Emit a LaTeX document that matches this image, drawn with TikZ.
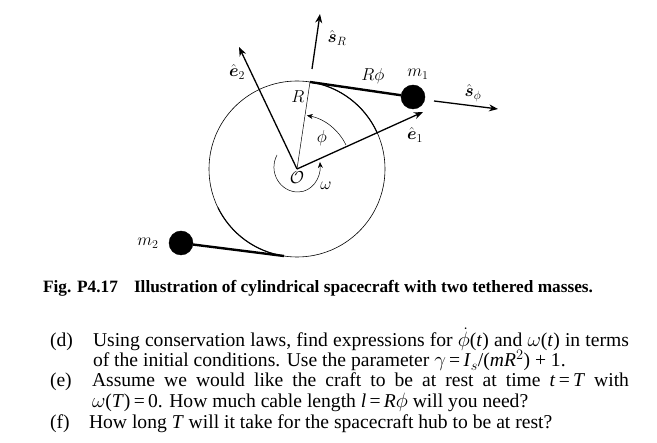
\documentclass[tikz,border=0pt]{standalone}
\usepackage{amsmath}
\usepackage{fontspec}
\setmainfont{Liberation Serif}
\usetikzlibrary{arrows.meta}
\tikzset{
	mass/.style={draw,circle,fill=black,inner sep=0,outer sep=0,minimum size=24pt},
	vec/.style={-{Stealth[length=9pt,width=7pt]},line width=1.3pt},
	thin arrow/.style={-{Stealth[length=6pt,width=5pt]},line width=0.5pt},
	cable/.style={line width=2.4pt},
	lbl/.style={inner sep=0,outer sep=0,font=\fontsize{17}{17}\selectfont},
	line/.style={anchor=base west,inner sep=0,outer sep=0,font=\fontsize{19.6}{20}\selectfont},
	caption/.style={anchor=base west,inner sep=0,outer sep=0,font=\fontsize{17.3}{18}\selectfont\bfseries}
}
\newcommand{\fitline}[2]{\makebox[#1pt][s]{#2}}
\begin{document}
\begin{tikzpicture}[x=1pt,y=-1pt]
	\useasboundingbox (0,0) rectangle (657,443);
	% hub
	\coordinate (O) at (297,169);
	\node[draw,circle,inner sep=0,outer sep=0,minimum size=176pt,line width=0.6pt] (hub) at (O) {};
	\coordinate (t1) at (310,82);
	\coordinate (t2) at (284,256);
	\node[mass] (m1) at (413,97) {};
	\node[mass] (m2) at (181,243) {};
	% cables
	\draw[cable] (t1) -- (m1);
	\draw[cable] (t2) -- (m2);
	\draw[line width=1.1pt] (t1) arc[start angle=81.5,end angle=24,radius=88pt];
	\draw[line width=1.1pt] (t2) arc[start angle=261.5,end angle=206,radius=88pt];
	% vectors
	\coordinate (e1) at (423,112);
	\coordinate (e2) at (239,47);
	\coordinate (sRa) at (312,69);
	\coordinate (sRb) at (320,14);
	\coordinate (spa) at (434,101);
	\coordinate (spb) at (498,109);
	\draw[vec] (O) -- (e1);
	\draw[vec] (O) -- (e2);
	\draw[vec] (sRa) -- (sRb);
	\draw[vec] (spa) -- (spb);
	\draw[line width=0.5pt] (O) -- (t1);
	% angles
	\draw[thin arrow] (346,145) arc[start angle=26,end angle=80,radius=54pt];
	\draw[thin arrow] (277,155) .. controls (268,172) and (280,192) .. (298,192) .. controls (312,192) and (321,178) .. (320,162);
	% labels
	\node[lbl] (lsR) at (337,38) {$\hat{\boldsymbol{s}}_R$};
	\node[lbl] (le2) at (237,72) {$\hat{\boldsymbol{e}}_2$};
	\node[lbl] (lRp) at (373,76) {$R\phi$};
	\node[lbl] (lm1) at (418,74) {$m_1$};
	\node[lbl] (lsp) at (473,93) {$\hat{\boldsymbol{s}}_\phi$};
	\node[lbl] (le1) at (415,135) {$\hat{\boldsymbol{e}}_1$};
	\node[lbl] (lR) at (298,97) {$R$};
	\node[lbl] (lphi) at (322,138) {$\phi$};
	\node[lbl] (lO) at (297,178) {$\mathcal{O}$};
	\node[lbl] (lw) at (326,186) {$\omega$};
	\node[lbl] (lm2) at (148,243) {$m_2$};
	% text
	\node[caption] (cap1) at (43,292.5) {Fig. P4.17};
	\node[caption] (cap2) at (134,292.5) {Illustration of cylindrical spacecraft with two tethered masses.};
	\node[line] (d) at (50,347) {(d)};
	\node[line] (d1) at (93,347) {\fitline{536}{Using conservation laws, find expressions for $\dot{\phi}$(\textit{t}) and $\omega$(\textit{t}) in terms}};
	\node[line] (d2) at (93,367) {of the initial conditions. Use the parameter $\gamma$\,=\,\textit{I}$_s$/(\textit{mR}$^2$) + 1.};
	\node[line] (e) at (50,387) {(e)};
	\node[line] (e1t) at (92,387) {\fitline{537}{Assume we would like the craft to be at rest at time \textit{t}\,=\,\textit{T} with}};
	\node[line] (e2t) at (92,408) {$\omega$(\textit{T})\,=\,0. How much cable length \textit{l}\,=\,\textit{R}$\phi$ will you need?};
	\node[line] (f) at (50,429) {(f)};
	\node[line] (f1) at (89,429) {How long \textit{T} will it take for the spacecraft hub to be at rest?};
\end{tikzpicture}
\end{document}
